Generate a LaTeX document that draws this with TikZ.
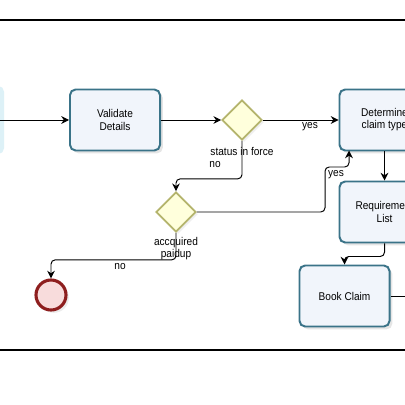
\documentclass[tikz,border=0pt]{standalone}
\usepackage{fontspec}
\newfontfamily\bpmnfont[FakeStretch=0.9]{Liberation Sans}
\usetikzlibrary{shapes.geometric,positioning,arrows.meta,shadows}
\definecolor{taskline}{HTML}{3A7388}
\definecolor{taskfill}{HTML}{F1F5FB}
\definecolor{gateline}{HTML}{B4B46C}
\definecolor{gatefill}{HTML}{FFFFDC}
\definecolor{endline}{HTML}{8E1E1E}
\definecolor{endfill}{HTML}{F8DCDC}
\definecolor{glowfill}{HTML}{DDF1F7}

\begin{document}
\begin{tikzpicture}
[x=0.025cm,y=-0.025cm,>={Stealth[length=5.5pt,width=5.5pt]},
every node/.style = {font=\bpmnfont\fontsize{8}{8.6}\selectfont},
task/.style = {draw=taskline, fill=taskfill, line width=1.4pt, rounded corners=4pt, minimum width=2.25cm, minimum height=1.525cm, align=center, drop shadow={opacity=0.2,shadow xshift=2pt,shadow yshift=-2pt}},
gate/.style = {draw=gateline, fill=gatefill, line width=1.2pt, diamond, aspect=1, minimum size=1cm, inner sep=0pt, drop shadow={opacity=0.12,shadow xshift=1.5pt,shadow yshift=-1.5pt}},
endev/.style = {draw=endline, fill=endfill, line width=2.2pt, circle, minimum size=0.75cm, inner sep=0pt, drop shadow={opacity=0.15,shadow xshift=2pt,shadow yshift=-2pt}},
flow/.style = {->, line width=0.7pt, rounded corners=3pt},]
\useasboundingbox (0,0) rectangle (405,405);
\clip (0,0) rectangle (405,405);
\fill[white] (0,0) rectangle (405,405);
\draw[line width=1pt] (0,20) -- (405,20);
\draw[line width=1pt] (0,350) -- (405,350);
\fill[glowfill, rounded corners=4pt] (-10,86) rectangle (4,154);
\node (recv) at (-50,120) [task] {};
\node (valid) at (115,120) [task] {Validate\\Details};
\node (gw1) at (242,120) [gate] {};
\node (det) at (384.5,120) [task] {Determine\\claim type};
\node (req) at (384.5,212) [task] {Requirement\\List};
\node (book) at (344.5,296) [task] {Book Claim};
\node (gw2) at (176,212) [gate] {};
\node (stop) at (51,295) [endev] {};
\coordinate (yesbend) at (325,167);
\coordinate (detin) at (349,150.5);
\coordinate (out) at (420,296);
\node (lblforce) at (242,151) {status in force};
\node (lblno1) at (215,165) {no};
\node (lblyes1) at (310,127) {yes};
\node (lblyes2) at (336,175) {yes};
\node (lblpaid) at (176,249) [align=center] {accquired\\paidup};
\node (lblno2) at (120,267) {no};
\draw[flow] (recv) -- (valid);
\draw[flow] (valid) -- (gw1);
\draw[flow] (gw1) -- (det);
\draw[flow] (gw1.south) -- ++(0,38) -| (gw2.north);
\draw[flow] (gw2.east) -| (yesbend) -| (detin);
\draw[flow] (det) -- (req);
\draw[flow] (req.south) -- ++(0,13) -| (book.north);
\draw[line width=0.7pt] (book.east) -- (out);
\draw[flow] (gw2.south) -- ++(0,27) -| (stop.north);
\end{tikzpicture}
\end{document}
